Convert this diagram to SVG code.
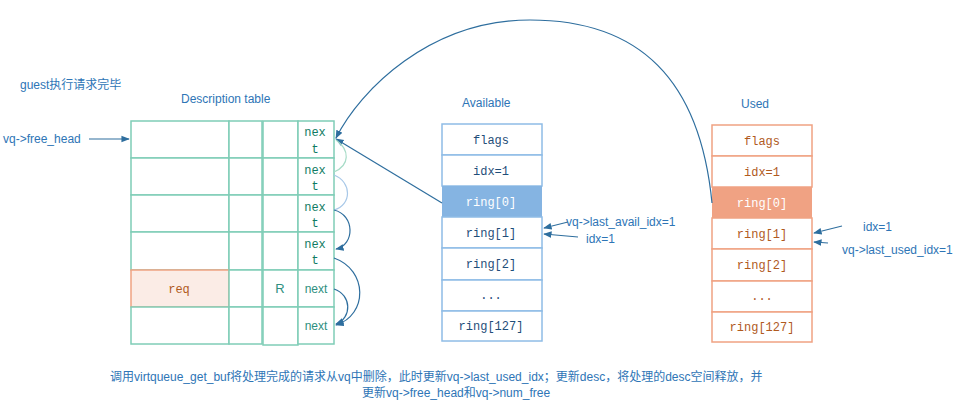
<svg xmlns="http://www.w3.org/2000/svg" width="975" height="418" viewBox="0 0 975 418">
<defs>
<marker id="a" viewBox="0 0 10 10" refX="9" refY="5" markerWidth="7" markerHeight="7" orient="auto-start-reverse"><path d="M0,1 L10,5 L0,9 z" fill="#2e6e9e"/></marker>
<style>
.t{font-family:"Liberation Sans",Arial,"Noto Sans CJK SC",sans-serif;font-size:12px;fill:#2e75b6}
.m{font-family:"Liberation Mono","Courier New",monospace;font-size:12px;text-anchor:middle}
.d{fill:#fff;stroke:#7fcdb7;stroke-width:1.5}
.av{fill:#fff;stroke:#8fbce6;stroke-width:1.5}
.us{fill:#fff;stroke:#f0a283;stroke-width:1.5}
.c{fill:none;stroke:#2e6e9e;stroke-width:1.2}
</style>
</defs>
<rect width="975" height="418" fill="#fff"/>
<text class="t" x="20" y="89">guest执行请求完毕</text>
<text class="t" x="181" y="103">Description  table</text>
<text class="t" x="462" y="107">Available</text>
<text class="t" x="741" y="108">Used</text>
<g id="desc">
<g fill="none">
<rect class="d" x="131" y="121" width="98" height="37"/><rect class="d" x="229" y="121" width="33" height="37"/><rect class="d" x="263" y="121" width="35" height="37"/><rect class="d" x="298" y="121" width="36" height="37"/>
<rect class="d" x="131" y="158" width="98" height="37"/><rect class="d" x="229" y="158" width="33" height="37"/><rect class="d" x="263" y="158" width="35" height="37"/><rect class="d" x="298" y="158" width="36" height="37"/>
<rect class="d" x="131" y="195" width="98" height="37"/><rect class="d" x="229" y="195" width="33" height="37"/><rect class="d" x="263" y="195" width="35" height="37"/><rect class="d" x="298" y="195" width="36" height="37"/>
<rect class="d" x="131" y="232" width="98" height="38"/><rect class="d" x="229" y="232" width="33" height="38"/><rect class="d" x="263" y="232" width="35" height="38"/><rect class="d" x="298" y="232" width="36" height="38"/>
<rect x="131" y="270" width="98" height="37" fill="#fbece6" stroke="#f0a283" stroke-width="1.5"/><rect class="d" x="229" y="270" width="33" height="37"/><rect class="d" x="263" y="270" width="35" height="37"/><rect class="d" x="298" y="270" width="36" height="37"/>
<rect class="d" x="131" y="307" width="98" height="37"/><rect class="d" x="229" y="307" width="33" height="37"/><rect class="d" x="263" y="307" width="35" height="38"/><rect class="d" x="298" y="307" width="36" height="37"/>
</g>
<g class="m" fill="#0f7b63">
<text x="315" y="136">nex</text><text x="315" y="153">t</text>
<text x="315" y="174">nex</text><text x="315" y="190">t</text>
<text x="315" y="211">nex</text><text x="315" y="227">t</text>
<text x="315" y="248">nex</text><text x="315" y="264">t</text>
</g>
<text class="m" x="179" y="293" fill="#b05a1e">req</text>
<text class="t" x="280" y="293" text-anchor="middle" style="font-size:13px;fill:#2e8f80">R</text>
<text class="t" x="316" y="293" text-anchor="middle" style="font-size:12px;fill:#2e8f80">next</text>
<text class="t" x="316" y="330" text-anchor="middle" style="font-size:12px;fill:#2e8f80">next</text>
</g>
<g id="avail">
<rect class="av" x="442" y="124" width="100" height="31"/>
<rect class="av" x="442" y="155" width="100" height="31"/>
<rect x="442" y="186" width="100" height="31" fill="#85b4e2"/>
<rect class="av" x="442" y="217" width="100" height="31"/>
<rect class="av" x="442" y="248" width="100" height="32"/>
<rect class="av" x="442" y="280" width="100" height="31"/>
<rect class="av" x="442" y="311" width="100" height="30"/>
<g class="m" fill="#1f4e79"><text x="491" y="144">flags</text><text x="491" y="175">idx=1</text><text x="491" y="206" fill="#fff">ring[0]</text><text x="491" y="237">ring[1]</text><text x="491" y="268">ring[2]</text><text x="491" y="299">...</text><text x="491" y="330">ring[127]</text></g>
</g>
<g id="used">
<rect class="us" x="712" y="125" width="100" height="31"/>
<rect class="us" x="712" y="156" width="100" height="31"/>
<rect x="712" y="187" width="100" height="31" fill="#f0a283"/>
<rect class="us" x="712" y="218" width="100" height="31"/>
<rect class="us" x="712" y="249" width="100" height="32"/>
<rect class="us" x="712" y="281" width="100" height="31"/>
<rect class="us" x="712" y="312" width="100" height="30"/>
<g class="m" fill="#b05a1e"><text x="762" y="145">flags</text><text x="762" y="176">idx=1</text><text x="762" y="207" fill="#fff">ring[0]</text><text x="762" y="238">ring[1]</text><text x="762" y="269">ring[2]</text><text x="762" y="300">...</text><text x="762" y="331">ring[127]</text></g>
</g>
<g id="labels">
<text class="t" x="3" y="143">vq-&gt;free_head</text>
<text class="t" x="566" y="226">vq-&gt;last_avail_idx=1</text>
<text class="t" x="586" y="243">idx=1</text>
<text class="t" x="863" y="231">idx=1</text>
<text class="t" x="842" y="254">vq-&gt;last_used_idx=1</text>
<text class="t" x="110" y="381">调用virtqueue_get_buf将处理完成的请求从vq中删除，此时更新vq-&gt;last_used_idx；更新desc，将处理的desc空间释放，并</text>
<text class="t" x="362" y="397">更新vq-&gt;free_head和vq-&gt;num_free</text>
</g>
<g id="connectors">
<path class="c" d="M89,139 L129,139" marker-end="url(#a)"/>
<path class="c" d="M442,203 L336,139" marker-end="url(#a)"/>
<path class="c" d="M712,203 C700,80 640,20 530,20 C430,20 360,90 336,138" marker-end="url(#a)"/>
<path d="M334,172 C350,165 350,150 336,140" fill="none" stroke="#a8dcc8" stroke-width="1.2"/>
<path d="M334,175 C352,182 352,205 334,210" fill="none" stroke="#a8c8e8" stroke-width="1.2"/>
<path class="c" d="M334,210 C355,215 355,245 336,249" marker-end="url(#a)"/>
<path class="c" d="M334,258 C368,270 368,315 336,325" marker-end="url(#a)"/>
<path class="c" d="M334,289 C352,295 352,318 336,324" marker-end="url(#a)"/>
<path class="c" d="M568,222 L544,228" marker-end="url(#a)"/>
<path class="c" d="M578,237 L544,234" marker-end="url(#a)"/>
<path class="c" d="M842,226 L814,233" marker-end="url(#a)"/>
<path class="c" d="M828,243 L814,242" marker-end="url(#a)"/>
</g>
</svg>
